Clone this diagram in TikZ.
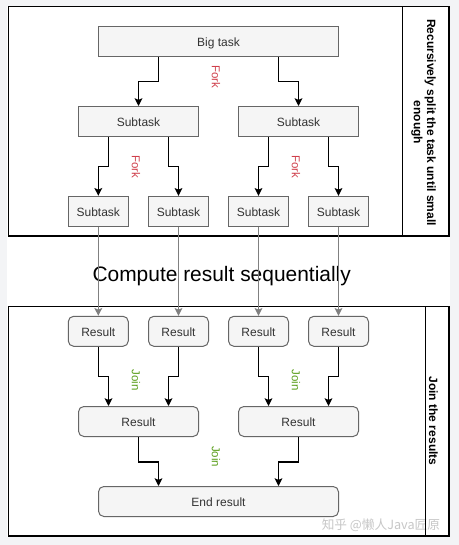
\documentclass[tikz,border=0pt]{standalone}
\usepackage{fontspec}
\setmainfont{Liberation Sans}
\newfontfamily\cjkfont{Noto Sans CJK SC}
\usetikzlibrary{arrows.meta,calc}
\definecolor{boxfill}{HTML}{F5F5F5}
\definecolor{boxline}{HTML}{666666}
\definecolor{boxtext}{HTML}{333333}
\definecolor{forkred}{HTML}{D0404C}
\definecolor{joingreen}{HTML}{5A9E1A}
\definecolor{pagegray}{HTML}{F3F4F6}
\definecolor{seqgray}{HTML}{808080}
\tikzset{
  tbox/.style={draw=boxline, fill=boxfill, line width=0.75pt, text=boxtext,
    font=\fontsize{9}{11}\selectfont, inner sep=0pt, minimum height=22.5pt,
    text height=9.2pt, text depth=1.6pt},
  rbox/.style={tbox, rounded corners=4pt},
  wsmall/.style={minimum width=45pt},
  wmid/.style={minimum width=90pt},
  wbig/.style={minimum width=180pt},
  arr/.style={draw=black, line width=1pt, -{Stealth[length=5.8pt,width=5.8pt,inset=1.2pt]}},
  garr/.style={draw=seqgray, line width=1pt, -{Stealth[length=5.8pt,width=5.8pt,inset=1.2pt]}},
  forklabel/.style={text=forkred, rotate=-90, font=\fontsize{8.6}{10}\selectfont, inner sep=0pt},
  joinlabel/.style={text=joingreen, rotate=-90, font=\fontsize{8.6}{10}\selectfont, inner sep=0pt},
  sidelabel/.style={rotate=-90, font=\bfseries\fontsize{9}{10}\selectfont, align=center, inner sep=0pt},
  frame/.style={draw=black, line width=1pt}
}
\begin{document}
\begin{tikzpicture}[x=0.75pt,y=-0.75pt]
\useasboundingbox (0,0) rectangle (459,545);
\fill[pagegray] (0,0) rectangle (459,545);
\fill[white] (7,6) rectangle (449.5,537);

% watermark
\node[text=black!22, font=\cjkfont\fontsize{9.5}{11}\selectfont, inner sep=0pt, anchor=west] (wm) at (321.5,525) {知乎 @懒人Java匠原};

% frames
\draw[frame] (8.3,6.3) rectangle (449,236);
\draw[frame] (402.7,6.3) -- (402.7,236);
\draw[frame] (8.3,306.3) rectangle (449,536);
\draw[frame] (425.7,306.3) -- (425.7,536);

\node[sidelabel] (lab1) at (423.5,122.5) {Recursively split the task until small\\enough};
\node[sidelabel] (lab2) at (433.3,421) {Join the results};

% fork nodes
\node[tbox,wbig] (big) at (218.5,41.3) {Big task};
\node[tbox,wmid] (s1) at (138.5,121.5) {Subtask};
\node[tbox,wmid] (s2) at (298.5,121.5) {Subtask};
\node[tbox,wsmall] (t1) at (98.3,211.3) {Subtask};
\node[tbox,wsmall] (t2) at (178.5,211.3) {Subtask};
\node[tbox,wsmall] (t3) at (258.5,211.3) {Subtask};
\node[tbox,wsmall] (t4) at (338.5,211.3) {Subtask};

% join nodes
\node[rbox,wsmall] (r1) at (98.3,331.3) {Result};
\node[rbox,wsmall] (r2) at (178.5,331.3) {Result};
\node[rbox,wsmall] (r3) at (258.5,331.3) {Result};
\node[rbox,wsmall] (r4) at (338.5,331.3) {Result};
\node[rbox,wmid] (q1) at (138.5,421.5) {Result};
\node[rbox,wmid] (q2) at (298.5,421.5) {Result};
\node[rbox,wbig] (end) at (218.5,501.5) {End result};

% labels
\node[forklabel] (f1) at (216,76.7) {Fork};
\node[forklabel] (f2) at (136,166.7) {Fork};
\node[forklabel] (f3) at (296,166.7) {Fork};
\node[joinlabel] (j1) at (136,380) {Join};
\node[joinlabel] (j2) at (296,380) {Join};
\node[joinlabel] (j3) at (216,456.7) {Join};

\node[font=\fontsize{15.7}{18}\selectfont, inner sep=0pt] (seq) at (221.7,276) {Compute result sequentially};

% fork connectors
\draw[arr] ($(big.south)+(-60,0)$) -- ++(0,24.7) -| (s1.north);
\draw[arr] ($(big.south)+(60,0)$) -- ++(0,24.7) -| (s2.north);
\draw[arr] ($(s1.south)+(-30,0)$) -- ++(0,29.7) -| (t1.north);
\draw[arr] ($(s1.south)+(30,0)$) -- ++(0,29.7) -| (t2.north);
\draw[arr] ($(s2.south)+(-30,0)$) -- ++(0,29.7) -| (t3.north);
\draw[arr] ($(s2.south)+(30,0)$) -- ++(0,29.7) -| (t4.north);

% sequential connectors
\draw[garr] (t1.south) -- (r1.north);
\draw[garr] (t2.south) -- (r2.north);
\draw[garr] (t3.south) -- (r3.north);
\draw[garr] (t4.south) -- (r4.north);

% join connectors
\draw[arr] (r1.south) -- ++(0,30) -| ($(q1.north)+(-30,0)$);
\draw[arr] (r2.south) -- ++(0,30) -| ($(q1.north)+(30,0)$);
\draw[arr] (r3.south) -- ++(0,30) -| ($(q2.north)+(-30,0)$);
\draw[arr] (r4.south) -- ++(0,30) -| ($(q2.north)+(30,0)$);
\draw[arr] (q1.south) -- ++(0,25) -| ($(end.north)+(-60,0)$);
\draw[arr] (q2.south) -- ++(0,25) -| ($(end.north)+(60,0)$);
\end{tikzpicture}
\end{document}
